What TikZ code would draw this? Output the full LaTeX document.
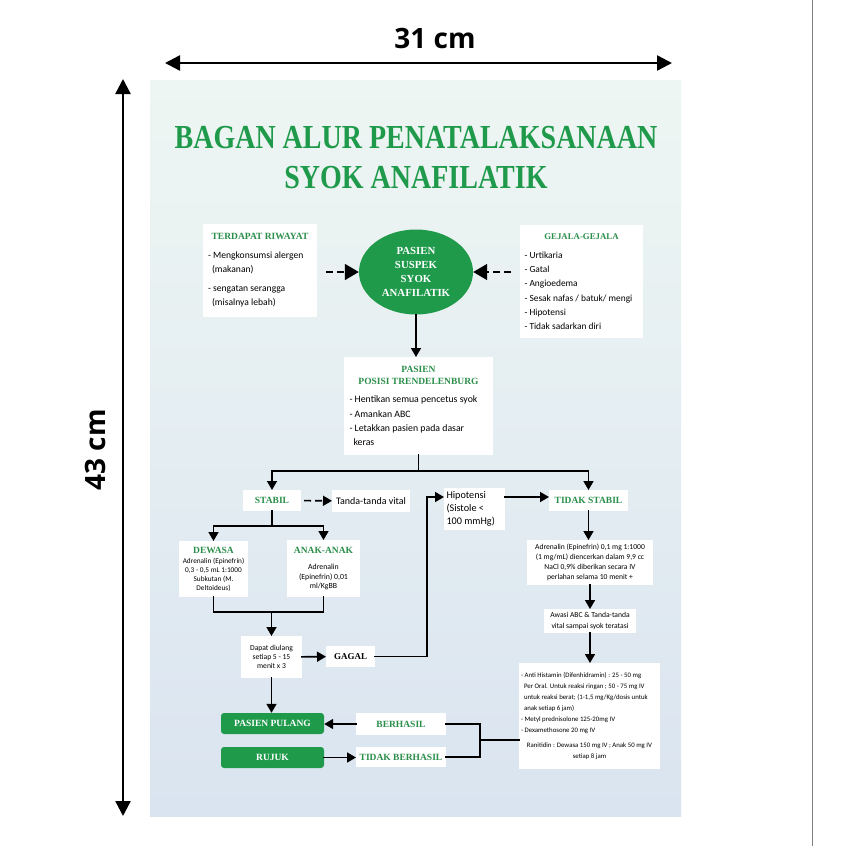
\documentclass[tikz,border=0pt]{standalone}
\usepackage{fontspec}
\setmainfont{Carlito}
\newfontfamily\judulfont{Liberation Serif}
\newfontfamily\ukuranfont{Open Sans}
\usetikzlibrary{arrows.meta,shapes.geometric,positioning}
\definecolor{hijau}{HTML}{1F9A4B}
\definecolor{hijaujudul}{HTML}{2B8E4A}
\definecolor{atas}{HTML}{EEF6F3}
\definecolor{bawah}{HTML}{DAE4F0}
\newcommand{\fsz}[2]{\fontsize{#1}{#2}\selectfont}
\newcommand{\hd}[2][9.5]{{\judulfont\bfseries\color{hijaujudul}\fsz{#1}{13}#2}}

\begin{document}
\begin{tikzpicture}[x=1pt,y=-1pt,
  kotak/.style={fill=white, inner sep=0pt, outer sep=0pt},
  tombol/.style={fill=hijau, rounded corners=3pt, inner sep=0pt, text=white,
    font=\judulfont\bfseries\fsz{9.5}{11}, minimum width=103pt, minimum height=21pt},
  label/.style={kotak, font=\judulfont\bfseries\fsz{9.5}{11}, text=hijaujudul},
  garis/.style={line width=1.6pt, line cap=rect},
  panah/.style={garis, -{Triangle[length=9pt,width=10pt]}},
  putus/.style={panah, dash pattern=on 7pt off 4pt, line cap=butt},
  ukuran/.style={line width=2.4pt, {Triangle[length=15pt,width=15pt]}-{Triangle[length=15pt,width=15pt]}}]

\useasboundingbox (0,0) rectangle (846,846);
\fill[white] (0,0) rectangle (846,846);
\shade[top color=atas, bottom color=bawah] (150,80) rectangle (681,816);
\draw[gray, line width=0.8pt] (812,0) -- (812,846);

% ukuran poster
\coordinate (lebarkiri) at (165,63);
\coordinate (lebarkanan) at (672,63);
\coordinate (tinggiatas) at (123,79);
\coordinate (tinggibawah) at (123,816);
\draw[ukuran] (lebarkiri) -- (lebarkanan);
\draw[ukuran] (tinggiatas) -- (tinggibawah);
\node[font=\ukuranfont\bfseries\fsz{28}{30}] (lebar) at (435,38) {31 cm};
\node[font=\ukuranfont\bfseries\fsz{28}{30}, rotate=90] (tinggi) at (95,450) {43 cm};

% judul
\node[align=center, text=hijau, font=\judulfont\bfseries\fsz{28}{40}] (judul) at (416,158)
  {\scalebox{1}[1.2]{BAGAN ALUR PENATALAKSANAAN}\\\scalebox{1}[1.2]{SYOK ANAFILATIK}};

% baris atas
\node[kotak, anchor=north west, minimum width=114pt, minimum height=93pt] (riwayat) at (203,224)
  {\parbox{104pt}{\centering\hd{TERDAPAT RIWAYAT}\par\vspace{5pt}\raggedright\fsz{9.6}{14}%
   - Mengkonsumsi alergen\\\hspace*{4pt}(makanan)\par\vspace{5pt}
   - sengatan serangga\\\hspace*{4pt}(misalnya lebah)}};
\node[ellipse, fill=hijau, minimum width=114pt, minimum height=85pt, inner sep=0pt, align=center,
  text=white, font=\judulfont\bfseries\fsz{10.8}{14}] (pasien) at (416,272) {PASIEN\\SUSPEK\\SYOK\\ANAFILATIK};
\node[kotak, anchor=north west, minimum width=123pt, minimum height=113pt] (gejala) at (520,225)
  {\parbox{114pt}{\centering\hd[8.8]{GEJALA-GEJALA}\par\vspace{5pt}\raggedright\fsz{9.4}{14.2}%
   - Urtikaria\\- Gatal\\- Angioedema\\- Sesak nafas / batuk/ mengi\\- Hipotensi\\- Tidak sadarkan diri}};

\node[kotak, anchor=north west, minimum width=149pt, minimum height=98pt] (trend) at (344,357)
  {\parbox{138pt}{\centering\hd{PASIEN}\\\hd{POSISI TRENDELENBURG}\par\vspace{4pt}\raggedright\fsz{9.8}{14.3}%
   - Hentikan semua pencetus syok\\- Amankan ABC\\- Letakkan pasien pada dasar\\\hspace*{4pt}keras}};

% cabang stabil / tidak stabil
\node[label, minimum width=58pt, minimum height=21pt] (stabil) at (272,500.5) {STABIL};
\node[kotak, minimum width=78pt, minimum height=22pt, font=\fsz{10}{11}] (vital) at (371,501) {Tanda-tanda vital};
\node[kotak, anchor=north west, minimum width=61pt, minimum height=42pt] (hipo) at (444,488)
  {\parbox{56pt}{\raggedright\fsz{10.2}{13}Hipotensi\\(Sistole <\\100 mmHg)}};
\node[label, minimum width=79pt, minimum height=21pt] (tidakstabil) at (588.5,500.5) {TIDAK STABIL};

\node[kotak, anchor=north west, minimum width=69pt, minimum height=56pt] (dewasa) at (179,541)
  {\parbox{69pt}{\centering\hd{DEWASA}\par\vspace{1pt}\fsz{7.3}{9}%
   Adrenalin (Epinefrin)\\0,3 - 0,5 mL 1:1000\\Subkutan (M.\\Deltoideus)}};
\node[kotak, anchor=north west, minimum width=73pt, minimum height=57pt] (anak) at (287,540)
  {\parbox{72pt}{\centering\hd{ANAK-ANAK}\par\vspace{7pt}\fsz{7.8}{9.5}%
   Adrenalin\\(Epinefrin) 0,01\\ml/KgBB}};
\node[kotak, anchor=north west, minimum width=61pt, minimum height=42pt] (dapat) at (241,636)
  {\parbox{60pt}{\centering\fsz{7.6}{9}Dapat diulang\\setiap 5 - 15\\menit x 3}};
\node[kotak, minimum width=49pt, minimum height=21pt, font=\judulfont\bfseries\fsz{9}{11}] (gagal) at (350.5,656.5) {GAGAL};

\node[kotak, anchor=north west, minimum width=126pt, minimum height=45pt] (adr) at (527,540)
  {\parbox{125pt}{\centering\fsz{7.6}{10}Adrenalin (Epinefrin) 0,1 mg 1:1000\\(1 mg/mL) diencerkan dalam 9,9 cc\\
   NaCl 0,9\% diberikan secara IV\\perlahan selama 10 menit +}};
\node[kotak, anchor=north west, minimum width=92pt, minimum height=24pt] (awasi) at (544,609)
  {\parbox{91pt}{\centering\fsz{7.6}{11}Awasi ABC \& Tanda-tanda\\vital sampai syok teratasi}};
\node[kotak, anchor=north west, minimum width=141pt, minimum height=106pt] (obat) at (519,663)
  {\parbox{137pt}{\raggedright\fsz{6.8}{11}%
   - Anti Histamin (Difenhidramin) : 25 - 50 mg\\\hspace*{3pt}Per Oral. Untuk reaksi ringan ; 50 - 75 mg IV\\
   \hspace*{3pt}untuk reaksi berat; (1-1,5 mg/Kg/dosis untuk\\\hspace*{3pt}anak setiap 6 jam)\\
   - Metyl prednisolone 125-20mg IV\\- Dexamethosone 20 mg IV\par\vspace{4pt}\centering
   Ranitidin : Dewasa 150 mg IV ; Anak 50 mg IV\\setiap 8 jam}};

% hasil
\node[label, minimum width=90pt, minimum height=22pt] (berhasil) at (401,724) {BERHASIL};
\node[label, minimum width=90pt, minimum height=20pt] (tidakberhasil) at (401,757) {TIDAK BERHASIL};
\node[tombol] (pulang) at (272.5,723.5) {PASIEN PULANG};
\node[tombol] (rujuk) at (272.5,757.5) {RUJUK};

% penghubung
\draw[putus, -{Triangle[length=14pt,width=16pt]}, shorten <=9pt] (riwayat.east |- pasien.west) -- (pasien.west);
\draw[putus, -{Triangle[length=14pt,width=16pt]}, shorten <=9pt] (gejala.west |- pasien.east) -- (pasien.east);
\draw[panah] (pasien.south) -- (pasien.south |- trend.north);

\coordinate (cabang1) at (419,471);
\draw[garis] (trend.south) -- (trend.south |- cabang1);
\draw[garis] (stabil.north |- cabang1) -- (tidakstabil.north |- cabang1);
\draw[panah] (stabil.north |- cabang1) -- (stabil.north);
\draw[panah] (tidakstabil.north |- cabang1) -- (tidakstabil.north);
\draw[putus, shorten <=3pt] (stabil) -- (vital);

\coordinate (cabang2) at (272,526);
\draw[garis] (stabil.south) -- (cabang2);
\draw[garis] (dewasa.north |- cabang2) -- (anak.north |- cabang2);
\draw[panah] (dewasa.north |- cabang2) -- (dewasa.north);
\draw[panah] (anak.north |- cabang2) -- (anak.north);

\coordinate (gabung) at (272,612);
\draw[garis] (dewasa.south) -- (dewasa.south |- gabung) -- (anak.south |- gabung) -- (anak.south);
\draw[panah] (dapat.north |- gabung) -- (dapat.north);
\draw[panah] (dapat) -- (gagal);

\coordinate (naik) at (427,497);
\draw[panah] (gagal.east) -| (naik) -- (hipo.west |- naik);
\draw[panah] (hipo.east |- naik) -- (tidakstabil.west |- naik);

\draw[panah] (tidakstabil.south) -- (tidakstabil.south |- adr.north);
\draw[panah] (adr.south) -- (adr.south |- awasi.north);
\draw[panah] (awasi.south) -- (awasi.south |- obat.north);

\coordinate (pisah) at (480,740);
\draw[garis] (obat.west |- pisah) -- (pisah);
\draw[garis] (berhasil.east) -| (pisah) |- (tidakberhasil.east);
\draw[panah] (berhasil.west) -- (pulang.east |- berhasil.west);
\draw[panah] (rujuk.east) -- (tidakberhasil.west |- rujuk.east);
\draw[panah] (dapat.south) -- (dapat.south |- pulang.north);

\end{tikzpicture}
\end{document}
